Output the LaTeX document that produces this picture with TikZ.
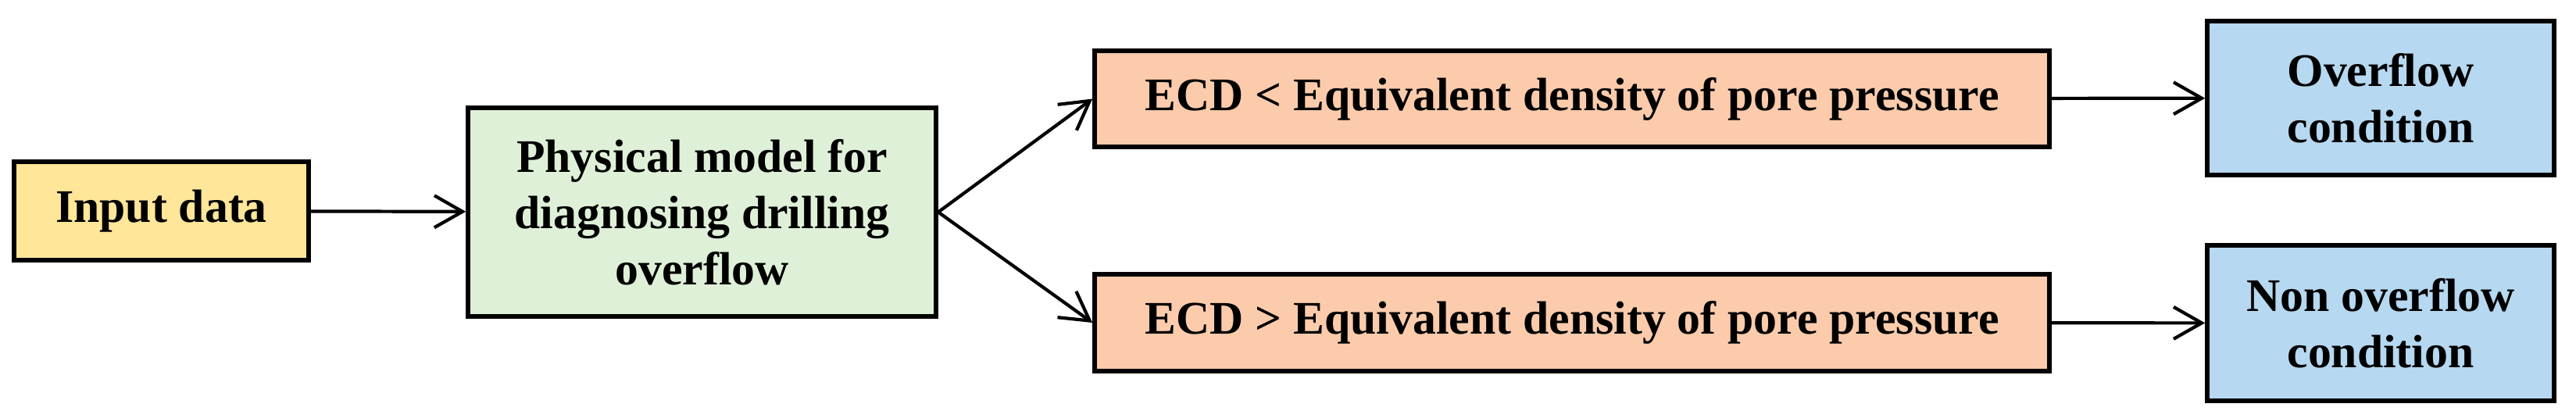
\documentclass[tikz,border=0pt]{standalone}
\usepackage{fontspec}
\setmainfont{Liberation Serif}
\usepackage{tikz}
\usetikzlibrary{arrows.meta}

\definecolor{inputfill}{HTML}{FFE699}
\definecolor{modelfill}{HTML}{DFF0D8}
\definecolor{ecdfill}{HTML}{FBCBAB}
\definecolor{statefill}{HTML}{B6D8F0}

\begin{document}
\begin{tikzpicture}[
		box/.style={draw, line width=1.6pt, inner sep=0pt, align=center,
			font=\fontsize{17}{20.5}\selectfont\bfseries},
		link/.style={line width=1.2pt, -{Straight Barb[length=3.6mm,width=4.1mm]}}
	]
			\useasboundingbox (0,0) rectangle (32.97,5.34);
			\node[box, fill=inputfill, minimum width=3.77cm, minimum height=1.26cm] (input) at (2.065,2.64) {Input data};
			\node[box, fill=modelfill, minimum width=5.99cm, minimum height=2.67cm] (model) at (8.985,2.625) {Physical model for\\diagnosing drilling\\overflow};
			\node[box, fill=ecdfill, minimum width=12.22cm, minimum height=1.23cm] (ecdlow) at (20.12,4.075) {ECD < Equivalent density of pore pressure};
			\node[box, fill=ecdfill, minimum width=12.22cm, minimum height=1.24cm] (ecdhigh) at (20.12,1.21) {ECD > Equivalent density of pore pressure};
			\node[box, fill=statefill, minimum width=4.44cm, minimum height=1.97cm] (over) at (30.47,4.085) {Overflow\\condition};
			\node[box, fill=statefill, minimum width=4.44cm, minimum height=1.99cm] (nonover) at (30.47,1.205) {Non overflow\\condition};
			\draw[link] (input) -- (model);
			\draw[link] (model.east) -- (ecdlow.west);
			\draw[link] (model.east) -- (ecdhigh.west);
			\draw[link] (ecdlow) -- (over);
			\draw[link] (ecdhigh) -- (nonover);
		\end{tikzpicture}
\end{document}
